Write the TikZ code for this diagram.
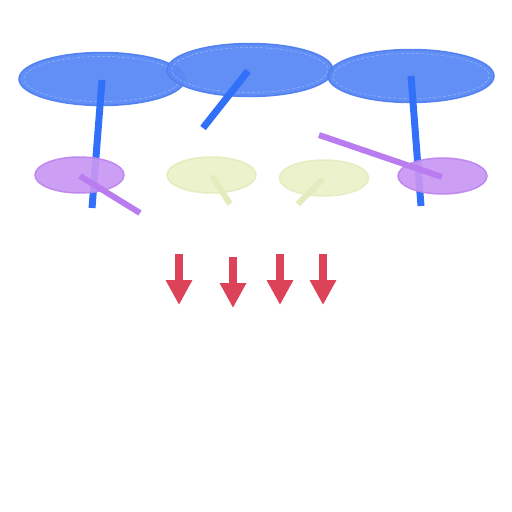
\documentclass[tikz,border=0pt]{standalone}
\usepackage{tikz}
\usetikzlibrary{arrows.meta}
\usepackage{xcolor}

\definecolor{padblue}{RGB}{88,137,245}
\definecolor{rimblue}{RGB}{78,126,240}
\definecolor{stickblue}{RGB}{50,112,250}
\definecolor{padpurple}{RGB}{200,150,243}
\definecolor{rimpurple}{RGB}{188,132,240}
\definecolor{stickpurple}{RGB}{185,125,240}
\definecolor{padyellow}{RGB}{234,241,200}
\definecolor{rimyellow}{RGB}{228,236,190}
\definecolor{stickyellow}{RGB}{228,236,190}
\definecolor{arrowred}{RGB}{220,66,88}

\begin{document}
\begin{tikzpicture}[
                    % one unit is one pixel of the picture, y going down
                    x=1pt, y=-1pt,
                    every path/.style={line width=0.8pt},
                    big pad/.style={fill=padblue, draw=rimblue, line width=1.5pt, opacity=0.95},
                    small pad/.style={line width=1.5pt, opacity=0.92},
                    stick/.style={line width=#1, line cap=butt},
                    drop arrow/.style={arrowred, line width=8pt,
                        -{Triangle[length=25pt, width=25pt]}}
                  ]
                  % --- frame of the picture ---
                  \useasboundingbox (0,0) rectangle (512,512);

                  % --- Define dimensions of the pads ---
                  \def\Rx{83}      % half-width of a big pad
                  \def\Ry{26.5}    % half-height of a big pad
                  \def\rx{44.5}    % half-width of a small pad
                  \def\ry{18}      % half-height of a small pad

  % --- the three big blue pads ---
  \foreach \cx/\cy in {102/79, 250/70, 411/76} {
    \draw[big pad] (\cx,\cy) ellipse [x radius=\Rx, y radius=\Ry];
    \draw[white, opacity=0.35, line width=0.5pt, densely dashed]
      (\cx,\cy) ellipse [x radius=\Rx-5, y radius=\Ry-4];
  }

  % --- the blue sticks ---
  \draw[stickblue, stick=7pt] (102,80) -- (92,208);
  \draw[stickblue, stick=7pt] (248,71) -- (203,128);
  \draw[stickblue, stick=7pt] (411,76) -- (421,206);

  % --- the four small pads ---
  \draw[small pad, fill=padpurple, draw=rimpurple] (79.5,175) ellipse [x radius=\rx, y radius=\ry];
  \draw[small pad, fill=padyellow, draw=rimyellow] (211.5,175) ellipse [x radius=\rx, y radius=\ry];
  \draw[small pad, fill=padyellow, draw=rimyellow] (324,178) ellipse [x radius=\rx, y radius=\ry];
  \draw[small pad, fill=padpurple, draw=rimpurple] (442.5,176) ellipse [x radius=\rx, y radius=\ry];

  % --- the small sticks ---
  \draw[stickpurple, stick=6pt] (80,176) -- (140,213);
  \draw[stickyellow, stick=6pt] (212,176) -- (230,204);
  \draw[stickyellow, stick=6pt] (323,179) -- (298,204);
  \draw[stickpurple, stick=6pt] (319,135) -- (442,177);

  % --- the red arrows ---
  \foreach \ax/\atop/\atip in {179/254/305, 233/257/308, 280/254/305, 323/254/305} {
    \draw[drop arrow] (\ax,\atop) -- (\ax,\atip);
  }

\end{tikzpicture}
\end{document}
